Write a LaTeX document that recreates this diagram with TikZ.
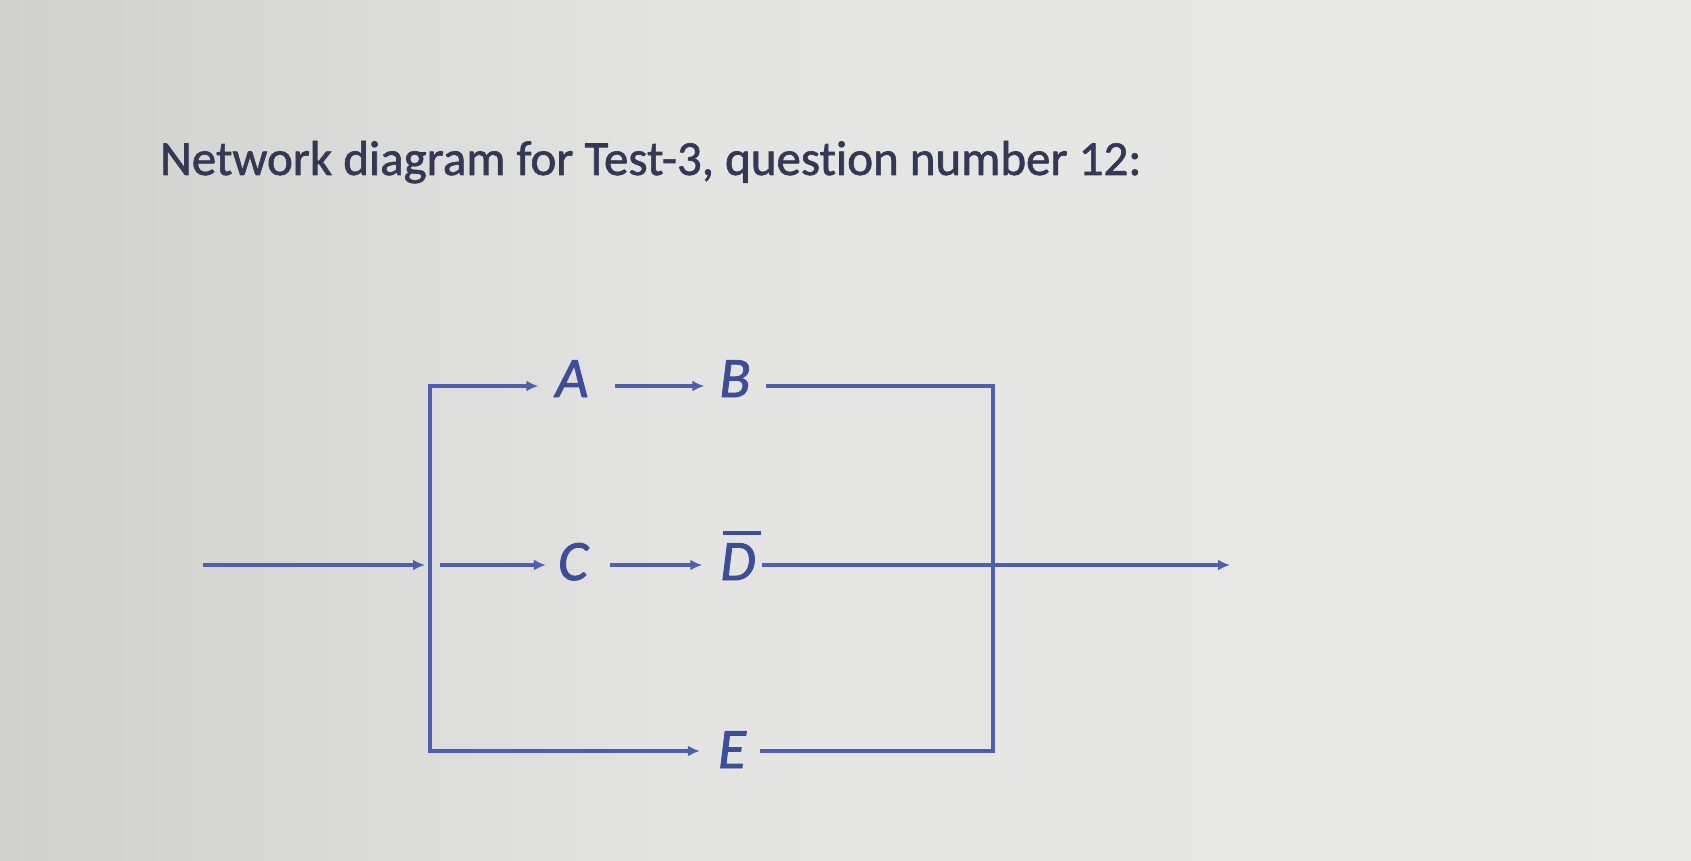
\documentclass[tikz,border=0pt]{standalone}
\usepackage{fontspec}
\setmainfont{Carlito}[Ligatures=NoCommon]
\usetikzlibrary{arrows.meta}
\newfontfamily\boldishfont{Carlito}[Ligatures=NoCommon,FakeBold=1.3]
\newfontfamily\boldishitfont{Carlito Italic}[FakeBold=1.6]
\definecolor{bgL}{RGB}{208,209,205}
\definecolor{bgM}{RGB}{228,229,227}
\definecolor{bgR}{RGB}{233,234,232}
\definecolor{wirec}{RGB}{78,96,172}
\definecolor{lblc}{RGB}{62,78,150}
\definecolor{ttlc}{RGB}{52,56,84}
\begin{document}
\begin{tikzpicture}[x=1pt,y=-1pt,
  wire/.style={draw=wirec,line width=3.5pt,line cap=rect},
  arr/.style={draw=wirec,line width=3.5pt,-{Latex[length=12pt,width=11pt]}},
  ovl/.style={draw=lblc,line width=3.5pt},
  lab/.style={inner sep=0pt,anchor=base,text=lblc,font=\fontsize{57}{68}\selectfont\boldishitfont},
  ]
\fill[left color=bgL,right color=bgM] (0,0) rectangle (700,861);
\fill[left color=bgM,right color=bgR] (700,0) rectangle (1691,861);
\useasboundingbox (0,0) rectangle (1691,861);
\node[anchor=base west,inner sep=0pt,text=ttlc,font=\fontsize{49}{58}\selectfont\boldishfont] (title) at (160,175) {Network diagram for Test-3, question number 12:};
\coordinate (tl) at (430,386);
\coordinate (ml) at (430,565);
\coordinate (bl) at (430,751);
\coordinate (tr) at (993,386);
\coordinate (br) at (993,751);
\coordinate (in) at (203,565);
\coordinate (out) at (1230,568);
\node[lab] (A) at (572,397) {A};
\node[lab] (B) at (735,397) {B};
\node[lab] (C) at (573,580) {C};
\node[lab] (D) at (738,580) {D};
\node[lab] (E) at (732,768) {E};
\draw[ovl] ([xshift=3pt,yshift=10pt]D.north west) -- ([xshift=5pt,yshift=10pt]D.north east);
% left side
\draw[wire] (tl) -- (bl);
\draw[arr, shorten >=17pt] (tl) -- (A.west |- tl);
\draw[arr, shorten >=18pt] (bl) -- (E.west |- bl);
% top / right / bottom return
\draw[wire, line join=miter, shorten <=17pt, shorten >=16pt] (B.east |- tr) -- (tr) -- (br) -- (E.east |- br);
\draw[arr, shorten <=26pt, shorten >=15pt] (A.east |- tl) -- (B.west |- tl);
% middle
\draw[arr, shorten >=5pt] (in) -- (ml);
\draw[arr, shorten <=10pt, shorten >=12pt] (ml) -- (C.west |- ml);
\draw[arr, shorten <=22pt, shorten >=18pt] (C.east |- ml) -- (D.west |- ml);
\draw[arr, shorten <=6pt] (D.east |- ml) -- (out |- ml);
\end{tikzpicture}
\end{document}
